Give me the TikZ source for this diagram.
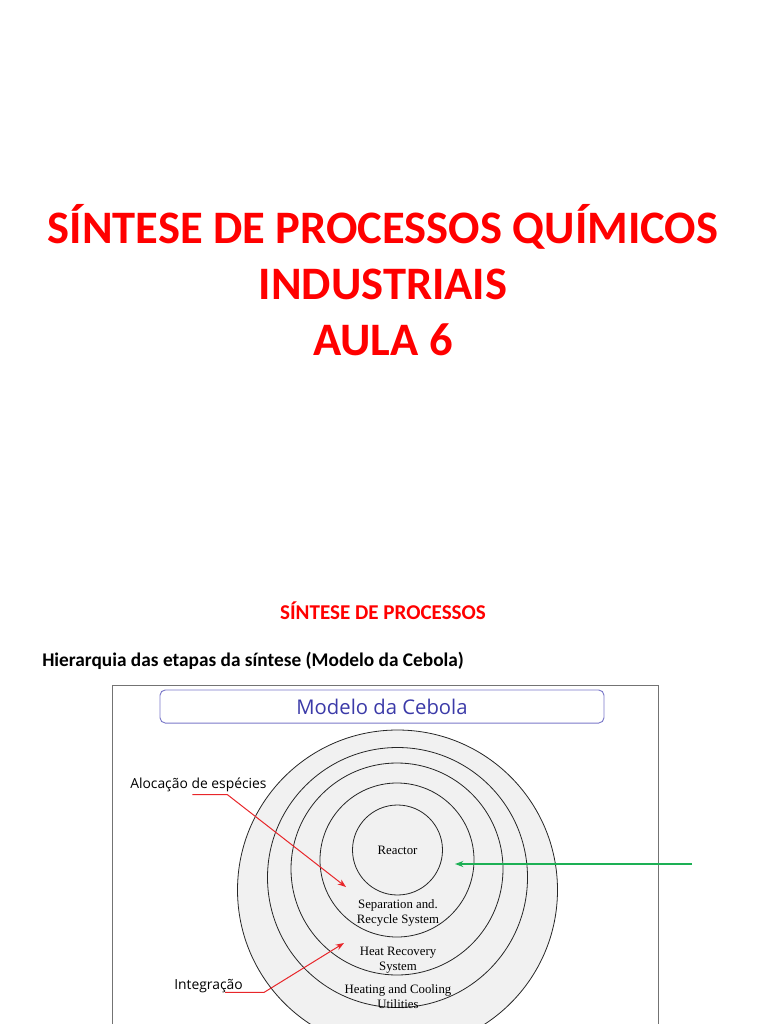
\documentclass[tikz,border=0pt]{standalone}
\usepackage{fontspec}
\setmainfont{Liberation Serif}
\newfontfamily\calibri{Carlito}
\newfontfamily\casual{Open Sans}
\usetikzlibrary{positioning,arrows.meta}
\usepackage{xcolor}
\definecolor{slidered}{HTML}{FF0000}
\definecolor{leadred}{HTML}{E8262A}
\definecolor{boxblue}{HTML}{7A78C8}
\definecolor{boxtext}{HTML}{3B3AA8}
\definecolor{oniongray}{HTML}{F1F1F1}
\definecolor{arrowgreen}{HTML}{1DB055}

\begin{document}
\begin{tikzpicture}[x=0.75pt, y=-0.75pt,
      title/.style={font=\calibri\bfseries\fontsize{34.9}{42}\selectfont,
                    text=slidered, inner sep=0pt, anchor=base},
      ring/.style={circle, draw=black!85, line width=0.6pt, inner sep=0pt, outer sep=0pt},
      ringlbl/.style={font=\fontsize{9.6}{11.2}\selectfont, align=center, inner sep=0pt},
      note/.style={font=\casual\fontsize{10.4}{12}\selectfont, inner sep=0pt, anchor=base west},
      lead/.style={draw=leadred, line width=0.75pt},
      >={Stealth[length=2.2mm, width=1.6mm]}]
    \clip (0,0) rectangle (768,1024);
    % slide title
    \node[title] (t1) at (383,243) {SÍNTESE DE PROCESSOS QUÍMICOS};
    \node[title] (t2) at ([yshift=-42pt]t1.base) {INDUSTRIAIS};
    \node[title] (t3) at ([yshift=-42pt]t2.base) {AULA 6};
    % second slide
    \node[font=\calibri\bfseries\fontsize{15.8}{19}\selectfont, text=slidered, inner sep=0pt, anchor=base]
      (sub) at (383,619) {SÍNTESE DE PROCESSOS};
    \node[font=\calibri\bfseries\fontsize{14.5}{17}\selectfont, inner sep=0pt, anchor=base west]
      (hier) at (42,666) {Hierarquia das etapas da síntese (Modelo da Cebola)};
    \draw[black!55, line width=0.6pt] (112,1030) |- (658,685) -- (658,1030);
    \node[draw=boxblue, line width=0.7pt, rounded corners=4pt, minimum width=333pt, minimum height=24.8pt,
          font=\casual\fontsize{15.2}{18}\selectfont, text=boxtext] (cebola) at (382,706.5) {Modelo da Cebola};
    % onion rings
    \node[ring, fill=oniongray, minimum size=240pt] (outer) at (397.5,890) {};
    \node[ring, minimum size=195pt] (ring4) at (397.5,877.5) {};
    \node[ring, minimum size=159pt] (ring3) at (397,869) {};
    \node[ring, minimum size=115.5pt] (ring2) at (397,860) {};
    \node[ring, minimum size=67.5pt, font=\fontsize{9.6}{11.2}\selectfont] (reactor) at (397.5,850) {Reactor};
    \node[ringlbl] (sep) at (398,912.5) {Separation and.\\Recycle System};
    \node[ringlbl] (heat) at (398,960.5) {Heat Recovery\\System};
    \node[ringlbl] (util) at (398,997) {Heating and Cooling\\Utilities};
    % side notes
    \node[note] (aloc) at (130,788) {Alocação de espécies};
    \node[note] (integ) at (174,989) {Integração};
    \coordinate (alocTip) at (346,887);
    \coordinate (integTip) at (344,943);
    \coordinate (greenStart) at (692,864);
    \draw[lead, ->] ([xshift=-4.5pt, yshift=-5pt]aloc.base) -- ++(35,0) -- (alocTip);
    \draw[lead, ->] ([xshift=12.5pt, yshift=-2.5pt]integ.base) -- ++(39,0) -- (integTip);
    \draw[arrowgreen, line width=1.6pt, ->] (greenStart) -- (455,864);
  \end{tikzpicture}
\end{document}
